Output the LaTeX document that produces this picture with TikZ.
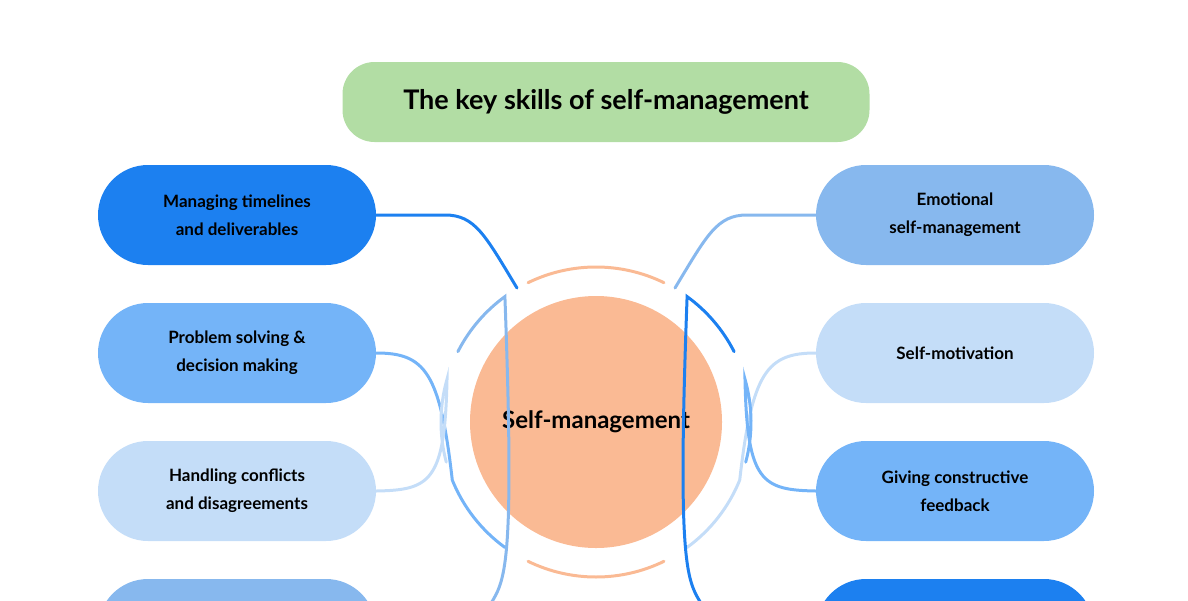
\documentclass[tikz,border=0pt]{standalone}
\usepackage{fontspec}
\setmainfont{Lato}
\begin{document}
\begin{tikzpicture}[x=1pt,y=-1pt]
\definecolor{cdark}{HTML}{1C80F0}
\definecolor{cmid}{HTML}{74B4F8}
\definecolor{clight}{HTML}{C4DDF8}
\definecolor{cmed}{HTML}{87B8EE}
\definecolor{cgreen}{HTML}{B2DDA4}
\definecolor{corange}{HTML}{FABA94}
\tikzset{pill/.style={rounded corners=50pt,minimum width=278pt,minimum height=100pt,align=center,font=\bfseries\fontsize{17}{28}\selectfont,inner sep=0pt},
 conn/.style={line width=3pt,line cap=round}}
\useasboundingbox (0,0) rectangle (1188,600);
\clip (0,0) rectangle (1188,600);
\node[fill=cgreen,rounded corners=32pt,minimum width=527pt,minimum height=80pt,font=\bfseries\fontsize{27}{32}\selectfont] (title) at (606,102) {The key skills of self-management};
\node[circle,fill=corange,minimum size=252pt,font=\bfseries\fontsize{24}{28}\selectfont] (c) at (596,422) {Self-management};
\node[pill,fill=cdark] (l1) at (237,215) {Managing timelines\\and deliverables};
\node[pill,fill=cmid] (l2) at (237,353) {Problem solving \&\\decision making};
\node[pill,fill=clight] (l3) at (237,491) {Handling conflicts\\and disagreements};
\node[pill,fill=cmed] (l4) at (237,629) {};
\node[pill,fill=cmed] (r1) at (955,215) {Emotional\\self-management};
\node[pill,fill=clight] (r2) at (955,353) {Self-motivation};
\node[pill,fill=cmid] (r3) at (955,491) {Giving constructive\\feedback};
\node[pill,fill=cdark] (r4) at (955,629) {};
% orange arcs
\draw[corange,conn] (c.center) ++(116:155) arc[start angle=116,end angle=64,radius=155];
\draw[corange,conn] (c.center) ++(-116:155) arc[start angle=-116,end angle=-64,radius=155];
% left connectors
\draw[cdark,conn] (l1.east) -- (445,215) .. controls (475,215) and (485,235) .. (517,288);
\draw[cmid,conn] (c.center) ++(126:155) arc[start angle=126,end angle=158,radius=155] .. controls (440,372) and (425,353) .. (l2.east);
\draw[clight,conn] (c.center) ++(165:155) arc[start angle=165,end angle=196,radius=155] .. controls (445,482) and (430,490) .. (l3.east);
\draw[cmed,conn] (c.center) ++(207:155) arc[start angle=207,end angle=234,radius=155] .. controls (515,570) and (505,580) .. (490,605);
% right connectors
\draw[cmed,conn] (r1.west) -- (747,215) .. controls (717,215) and (707,235) .. (675,288);
\draw[clight,conn] (c.center) ++(54:155) arc[start angle=54,end angle=22,radius=155] .. controls (752,372) and (767,353) .. (r2.west);
\draw[cmid,conn] (c.center) ++(15:155) arc[start angle=15,end angle=-16,radius=155] .. controls (747,482) and (762,490) .. (r3.west);
\draw[cdark,conn] (c.center) ++(-27:155) arc[start angle=-27,end angle=-54,radius=155] .. controls (677,570) and (687,580) .. (702,605);
\end{tikzpicture}
\end{document}
